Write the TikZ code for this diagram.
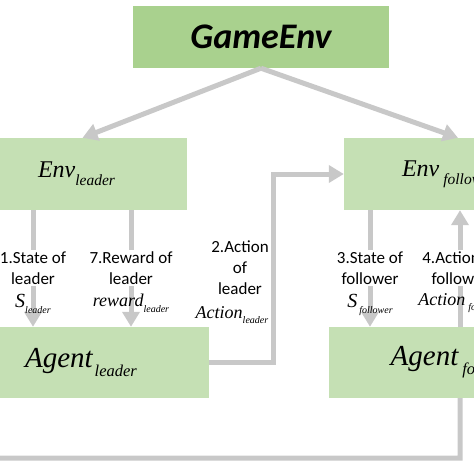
\documentclass[tikz,border=0pt]{standalone}
\usepackage{fontspec}
\setmainfont{Carlito}
\newfontfamily\tmsfont{Liberation Serif}
\usetikzlibrary{arrows.meta}
\definecolor{gamegreen}{HTML}{A9D18E}
\definecolor{boxgreen}{HTML}{C5E0B4}
\definecolor{linegray}{HTML}{C8C8C8}
% italic symbol with a lowered subscript: base size, subscript size, symbol, subscript
\newcommand{\msub}[4]{{\tmsfont\itshape\fontsize{#1}{#1}\selectfont #3\raisebox{-0.32em}{\fontsize{#2}{#2}\selectfont #4}}}
\begin{document}
\begin{tikzpicture}[x=1pt, y=-1pt,
    box/.style={fill=boxgreen, inner sep=0pt, minimum height=71pt},
    flow/.style={draw=linegray, line width=5pt, -{Triangle[length=15pt,width=17pt]}},
    lbl/.style={inner sep=2pt, align=center, font=\fontsize{17}{21}\selectfont}]
    \useasboundingbox (0,0) rectangle (474,474);
    \clip (0,0) rectangle (474,474);

    \node[box, fill=gamegreen, minimum width=256pt, minimum height=62pt] (game) at (261,37)
        {\fontsize{36}{36}\selectfont\bfseries\itshape GameEnv};
    \node[box, minimum width=221pt, minimum height=72pt] (envL) at (76.5,174) {\msub{24}{15.5}{Env}{leader}};
    \node[box, minimum width=209pt, minimum height=72pt] (envF) at (448.5,174) {\msub{24}{15.5}{Env}{\hspace{4pt}follower}};
    \node[box, minimum width=256pt] (agentL) at (81,362.5) {\msub{29}{16.5}{Agent}{\hspace{2pt}leader}};
    \node[box, minimum width=250pt] (agentF) at (454,362.5) {\msub{29}{16.5}{Agent}{\hspace{4pt}follower}};

    \coordinate (loopEnd) at (-10,458);

    \node[lbl, fill=white] (lab1) at (33,268) {1.State of\\leader};
    \node[lbl, fill=white] (lab7) at (131,268) {7.Reward of\\leader};
    \node[lbl] (lab2) at (240,268) {2.Action\\of\\leader};
    \node[lbl, fill=white] (lab3) at (370,268) {3.State of\\follower};
    \node[lbl, fill=white] (lab4) at (460,268) {4.Action of\\follower};

    \draw[flow] (game.south) -- ([xshift=6pt]envL.north);
    \draw[flow] (game.south) -- ([xshift=9.5pt]envF.north);
    \draw[flow] (agentL.east) -- ++(64,0) |- (envF.west);
    \draw[flow] (envL.south -| lab1) -- (agentL.north -| lab1);
    \draw[flow] (envL.south -| lab7) -- (agentL.north -| lab7);
    \draw[flow] (envF.south -| lab3) -- (agentF.north -| lab3);
    \draw[flow] (agentF.north -| lab4) -- (envF.south -| lab4);
    \draw[flow, -] (agentF.south -| lab4) -- ++(0,60) -- (loopEnd);

    \node[lbl, fill=white] at (lab1) {1.State of\\leader};
    \node[lbl, fill=white] at (lab7) {7.Reward of\\leader};
    \node[lbl, fill=white] at (lab3) {3.State of\\follower};
    \node[lbl, fill=white] at (lab4) {4.Action of\\follower};

    \node (sym1) at (33,304) {\msub{20}{10}{S}{leader}};
    \node (sym7) at (131,303) {\msub{18}{10}{reward}{leader}};
    \node (sym2) at (232,315) {\msub{18}{10}{Action}{leader}};
    \node (sym3) at (370,305) {\msub{20}{10}{S}{\hspace{2pt}follower}};
    \node (sym4) at (460,303) {\msub{18}{10}{Action}{\hspace{3pt}follower}};
\end{tikzpicture}
\end{document}
